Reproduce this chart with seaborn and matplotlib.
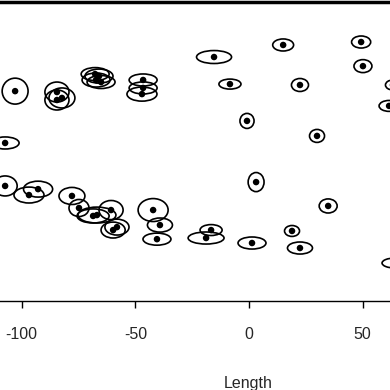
import matplotlib
matplotlib.use("Agg")
import matplotlib.pyplot as plt
from matplotlib.patches import Ellipse
import pandas as pd
import seaborn as sns

# values (x = Length, y = second axis not shown)
length = [-102.9, -84.5, -84.5, -82.3, -67.7, -66.0, -65.1, -67.3, -46.6, -46.6,
          -47.1, -107.3, -107.3, -96.8, -92.8, -77.9, -74.8, -68.6, -66.9, -60.7,
          -59.8, -58.1, -42.2, -39.2, -40.5, -16.7, -18.9, -15.4, 15.0, 49.3,
          -8.4, 22.4, 50.1, -0.9, 29.9, 63.3, 61.6, 64.2, 3.1, 34.8,
          1.3, 18.9, 22.4]
score = [10.8, 10.4, 6.9, 7.8, 18.3, 17.4, 14.8, 15.7, 15.7, 12.2,
         9.5, -12.0, -30.9, -34.9, -32.3, -35.3, -40.6, -44.1, -43.7, -41.5,
         -50.3, -49.0, -41.5, -48.1, -54.3, -50.3, -53.8, 25.8, 31.1, 32.4,
         13.9, 13.5, 21.8, -2.3, -8.9, 13.5, 4.3, -64.8, -29.2, -39.7,
         -56.0, -50.7, -58.2]
# ellipse extents (same units as the axes)
ell_w = [11.4, 10.6, 10.6, 11.4, 12.3, 12.3, 12.3, 12.3, 12.3, 12.3,
         13.2, 12.3, 10.6, 13.2, 12.8, 11.4, 8.8, 14.1, 16.7, 10.6,
         10.6, 10.6, 13.2, 11.0, 12.3, 9.7, 15.8, 15.4, 9.2, 8.4,
         9.7, 7.5, 7.9, 6.2, 6.6, 6.6, 8.8, 11.4, 7.0, 7.9,
         12.3, 6.6, 11.0]
ell_h = [11.4, 8.8, 8.8, 8.8, 5.7, 6.2, 5.7, 6.2, 5.3, 5.3,
         6.2, 5.3, 8.8, 7.0, 7.0, 7.5, 7.5, 6.2, 7.0, 8.4,
         7.0, 7.0, 10.1, 6.2, 5.3, 4.8, 5.3, 5.7, 5.3, 5.3,
         4.4, 5.7, 5.7, 6.6, 5.7, 4.4, 4.8, 4.4, 8.4, 6.2,
         5.3, 4.8, 5.3]

df = pd.DataFrame({"Length": length, "Score": score, "w": ell_w, "h": ell_h})

sns.set_style("white")
plt.rcParams["font.family"] = ["Liberation Sans", "DejaVu Sans"]
plt.rcParams["axes.unicode_minus"] = False

fig = plt.figure(figsize=(3.9, 3.9), dpi=100)
ax = fig.add_axes([0, 1 - 301 / 390, 1, 299 / 390])

for _, r in df.iterrows():
    ax.add_patch(Ellipse((r["Length"], r["Score"]), r["w"], r["h"],
                         fill=False, edgecolor="black", linewidth=1.2))

sns.scatterplot(data=df, x="Length", y="Score", color="black", s=22,
                edgecolor="none", ax=ax, legend=False)

ax.set_xlim(-109.55, 62.0)
ax.set_ylim(-81.5, 50)
ax.set_xticks([-100, -50, 0, 50])
ax.set_yticks([])
ax.set_ylabel("")
ax.set_xlabel("Length", fontsize=11.5)
ax.xaxis.set_label_coords(248.5 / 390, -0.25)
ax.tick_params(axis="x", direction="out", length=5, width=1, pad=14,
               labelsize=11.5, bottom=True, color="black")
ax.spines["left"].set_visible(False)
ax.spines["right"].set_visible(False)
ax.spines["top"].set_linewidth(2.5)
ax.spines["top"].set_color("black")
ax.spines["bottom"].set_linewidth(1)
ax.spines["bottom"].set_color("black")

fig.savefig("out.png", dpi=100)
